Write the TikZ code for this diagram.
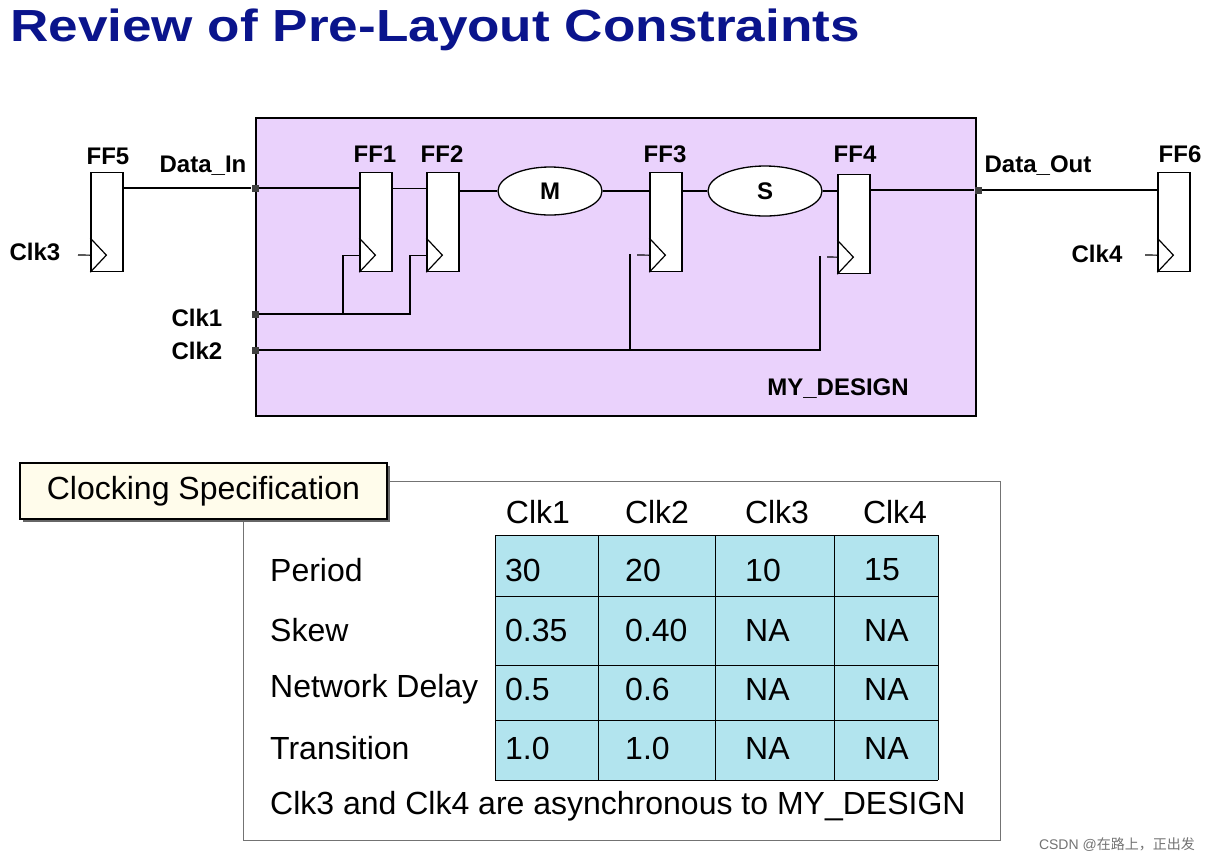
\documentclass[tikz,border=0pt]{standalone}
\usepackage{fontspec}
\setmainfont{Liberation Sans}
\newfontfamily\cjk{Noto Sans CJK SC}
\usetikzlibrary{shapes.geometric}
\definecolor{navy}{RGB}{10,20,140}
\definecolor{lav}{RGB}{234,210,252}
\definecolor{cyanc}{RGB}{178,228,238}
\definecolor{cream}{RGB}{255,252,235}
\begin{document}
\begin{tikzpicture}[x=1pt,y=-1pt,
  lbl/.style={font=\fontsize{24}{26}\selectfont\bfseries,inner sep=0},
  ff/.style={draw,fill=white,line width=1.3pt,minimum width=32pt,minimum height=99pt,inner sep=0},
  op/.style={ellipse,draw,fill=white,line width=1.3pt,font=\fontsize{24}{26}\selectfont\bfseries},
  w/.style={line width=1.2pt},
  port/.style={fill=black!75,minimum size=7pt,inner sep=0},
  tt/.style={font=\fontsize{32}{34}\selectfont,inner sep=0,anchor=west}]
\useasboundingbox (0,0) rectangle (1209,863);
\fill[white] (0,0) rectangle (1209,863);
\node[anchor=west,text=navy,inner sep=0] (title) at (10,30) {\fontsize{45}{47}\selectfont\bfseries\scalebox{1.18}[1]{Review of Pre-Layout Constraints}};
\node[draw,fill=lav,line width=1.8pt,minimum width=720pt,minimum height=298pt,anchor=north west] (box) at (255,117) {};
% FFs
\foreach \n/\x/\y in {ff5/107/222,ff1/376/222,ff2/443/222,ff3/666/222,ff4/854/224,ff6/1174/222}{
  \node[ff] (\n) at (\x,\y) {};
  \draw[w] ([yshift=34pt]\n.south west) -- ([xshift=16pt,yshift=17pt]\n.south west) -- (\n.south west);
}
\node[op,minimum width=104pt,minimum height=48pt] (M) at (550,191) {M};
\node[op,minimum width=114pt,minimum height=50pt] (S) at (765,191) {S};
\node[port] (pin) at (255,188) {};
\node[port] (pc1) at (255,314) {};
\node[port] (pc2) at (255,350) {};
\node[port] (pout) at (978,190) {};
% data path
\draw[w] (ff5.east|-pin) -- (pin) -- (ff1.west|-pin);
\draw[line width=0.6pt] (ff1.east|-pin) -- (ff2.west|-pin);
\draw[w] (ff2.east|-M) -- (M) -- (ff3.west|-M);
\draw[w] (ff3.east|-S) -- (S) -- (ff4.west|-S);
\draw[w] (ff4.east|-pout) -- (pout) -- (ff6.west|-pout);
% clocks
\coordinate (c1a) at (343,314); \coordinate (c1b) at (410,314);
\draw[w] (pc1) -- (c1b) |- ([yshift=17pt]ff2.south west);
\draw[w] (c1a) |- ([yshift=17pt]ff1.south west);
\coordinate (c2a) at (630,350); \coordinate (c2b) at (820,350);
\draw[w] (pc2) -- (c2b) -- (820,256);
\draw[w] (c2a) -- (630,254);
\draw[w] (637,255) -- ([yshift=17pt]ff3.south west);
\draw[w] (827,257) -- ([yshift=17pt]ff4.south west);
\draw[w] (78,255) -- ([yshift=17pt]ff5.south west);
\draw[w] (1145,255) -- ([yshift=17pt]ff6.south west);
% labels
\node[lbl] at (108,156) {FF5};
\node[lbl] at (203,166) {Data\_In};
\node[lbl] at (375,154) {FF1};
\node[lbl] at (442,154) {FF2};
\node[lbl] at (665,154) {FF3};
\node[lbl] at (855,154) {FF4};
\node[lbl] at (1038,166) {Data\_Out};
\node[lbl] at (1180,154) {FF6};
\node[lbl] at (35,252) {Clk3};
\node[lbl] at (1097,254) {Clk4};
\node[lbl] at (197,318) {Clk1};
\node[lbl] at (197,351) {Clk2};
\node[lbl] at (838,389) {MY\_DESIGN};
% table
\node[draw=black!55,line width=0.8pt,minimum width=757pt,minimum height=359pt,anchor=north west] (outer) at (243,481) {};
\fill[black!60] (23,466) rectangle (390,522);
\node[draw,fill=cream,line width=1.8pt,minimum width=367pt,minimum height=56pt,anchor=north west,font=\fontsize{32}{34}\selectfont] (cs) at (19,462) {Clocking Specification};
\fill[cyanc] (495,535) rectangle (938,780);
\foreach \x in {495,598,715,834,938} \draw[line width=0.9pt] (\x,535) -- (\x,780);
\foreach \y in {535,596,665,720,780} \draw[line width=0.9pt] (495,\y) -- (938,\y);
\foreach \t/\x in {Clk1/538,Clk2/657,Clk3/777,Clk4/895} \node[tt,anchor=center] at (\x,512) {\t};
\foreach \t/\y in {Period/570,Skew/630,Network Delay/689,Transition/748} \node[tt] at (270,\y) {\t};
\foreach \a/\b/\c/\d/\y in {30/20/10/15/570,0.35/0.40/NA/NA/630,0.5/0.6/NA/NA/689,1.0/1.0/NA/NA/748}{
  \node[tt] at (505,\y) {\a}; \node[tt] at (625,\y) {\b};
  \node[tt] at (745,\y) {\c}; \node[tt] at (864,\y) {\d};}
\node[tt] at (270,806) {Clk3 and Clk4 are asynchronous to MY\_DESIGN};
\node[anchor=east,text=black!55,inner sep=0,font=\fontsize{14}{16}\selectfont] at (1195,845) {CSDN @{\cjk 在路上，正出发}};
\end{tikzpicture}
\end{document}
